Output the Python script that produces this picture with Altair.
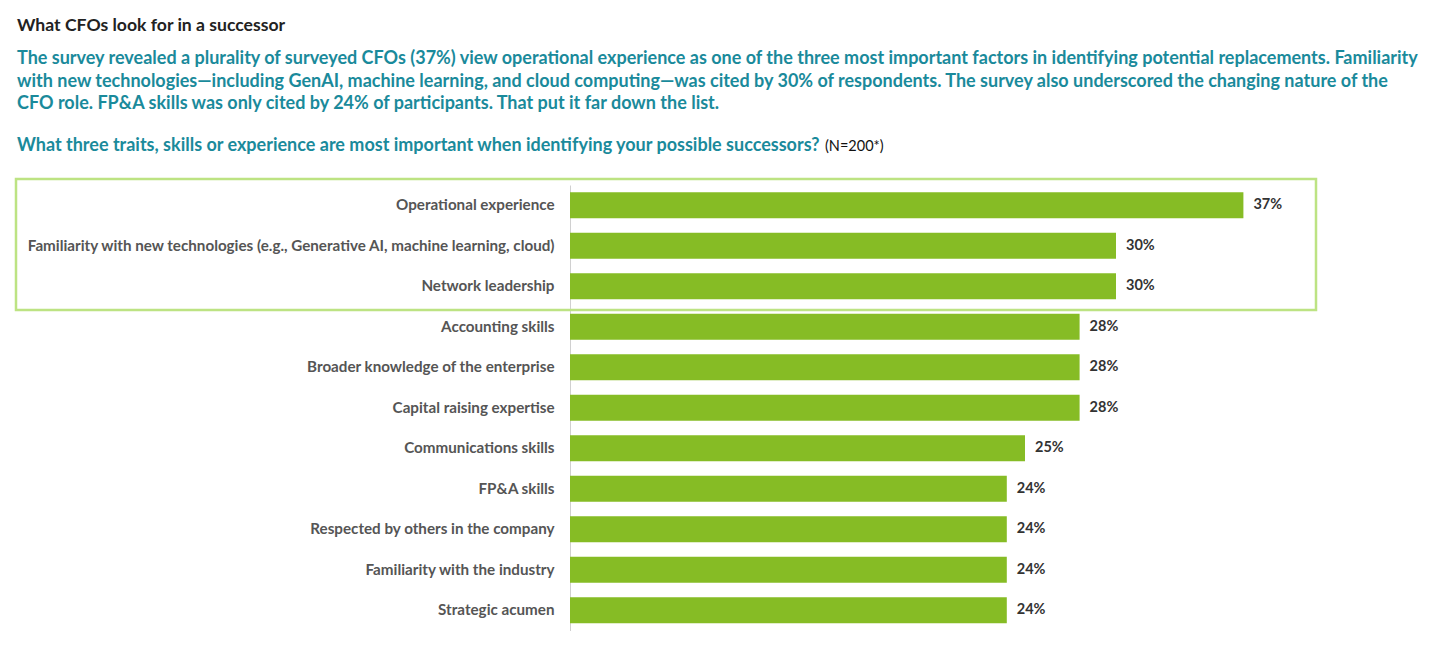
import altair as alt
import pandas as pd

categories = [
    "Operational experience",
    "Familiarity with new technologies (e.g., Generative AI, machine learning, cloud)",
    "Network leadership",
    "Accounting skills",
    "Broader knowledge of the enterprise",
    "Capital raising expertise ",
    "Communications skills",
    "FP&A skills",
    "Respected by others in the company",
    "Familiarity with the industry",
    "Strategic acumen",
]
values = [37, 30, 30, 28, 28, 28, 25, 24, 24, 24, 24]
value_labels = [f"{v}%" for v in values]

title_text = "What CFOs look for in a successor"
paragraph_lines = [
    "The survey revealed a plurality of surveyed CFOs (37%) view operational experience as one of the three most important factors in identifying potential replacements. Familiarity",
    "with new technologies\u2014including GenAI, machine learning, and cloud computing\u2014was cited by 30% of respondents. The survey also underscored the changing nature of the",
    "CFO role. FP&A skills was only cited by 24% of participants. That put it far down the list.",
]
question_text = "What three traits, skills or experience are most important when identifying your possible successors?"
note_text = "(N=200*)"

FONT = "Lato"
GREEN = "#86bc25"
BOX = "#bde383"
TEAL = "#1a8a9b"

df = pd.DataFrame({"cat": categories, "val": values, "lbl": value_labels})

W, H = 728, 445.5
LEFT, TOP = 570, 185

y_enc = alt.Y(
    "cat:N",
    sort=categories,
    scale=alt.Scale(paddingInner=0.36, paddingOuter=0.18),
    axis=alt.Axis(
        title=None, ticks=False, domain=True, domainColor="#d0d0d0", domainWidth=1,
        labelFont=FONT, labelFontSize=15.2, labelFontWeight="bold", labelColor="#555555",
        labelPadding=16, labelLimit=600, grid=False,
    ),
)
x_enc = alt.X("val:Q", scale=alt.Scale(domain=[0, 40]), axis=None)

bars = alt.Chart(df).mark_bar(color=GREEN).encode(x=x_enc, y=y_enc)
labels = alt.Chart(df).mark_text(
    align="left", baseline="middle", dx=10, font=FONT, fontSize=14.5,
    fontWeight="bold", color="#333333",
).encode(x=x_enc, y=alt.Y("cat:N", sort=categories), text="lbl:N")

box = alt.Chart(pd.DataFrame({"k": [0]})).mark_rect(
    fill=None, stroke=BOX, strokeWidth=2.5
).encode(
    x=alt.value(16 - LEFT), x2=alt.value(1316 - LEFT),
    y=alt.value(179 - TOP), y2=alt.value(310 - TOP),
)

title_df = pd.DataFrame({"t": [title_text]})
title = alt.Chart(title_df).mark_text(
    align="left", baseline="middle", font=FONT, fontSize=17.6, fontWeight="bold", color="#222222"
).encode(x=alt.value(17 - LEFT), y=alt.value(26 - TOP), text="t:N")

para_layers = []
for i, (line, yy) in enumerate(zip(paragraph_lines, [59, 82, 104])):
    para_layers.append(
        alt.Chart(pd.DataFrame({"t": [line]})).mark_text(
            align="left", baseline="middle", font=FONT, fontSize=18, fontWeight="bold", color=TEAL
        ).encode(x=alt.value(17 - LEFT), y=alt.value(yy - TOP), text="t:N")
    )

question = alt.Chart(pd.DataFrame({"t": [question_text]})).mark_text(
    align="left", baseline="middle", font=FONT, fontSize=18, fontWeight="bold", color=TEAL
).encode(x=alt.value(17 - LEFT), y=alt.value(146 - TOP), text="t:N")

note = alt.Chart(pd.DataFrame({"t": [note_text]})).mark_text(
    align="left", baseline="middle", font=FONT, fontSize=14.5, color="#111111"
).encode(x=alt.value(825 - LEFT), y=alt.value(147 - TOP), text="t:N")

chart = alt.layer(box, bars, labels, title, *para_layers, question, note).properties(
    width=W, height=H,
    autosize=alt.AutoSizeParams(type="none"),
    padding={"left": LEFT, "top": TOP, "right": 1437 - LEFT - W, "bottom": 649 - TOP - H},
).configure_view(stroke=None)

chart.save("out.html", embed_options={"renderer": "svg", "actions": False})
